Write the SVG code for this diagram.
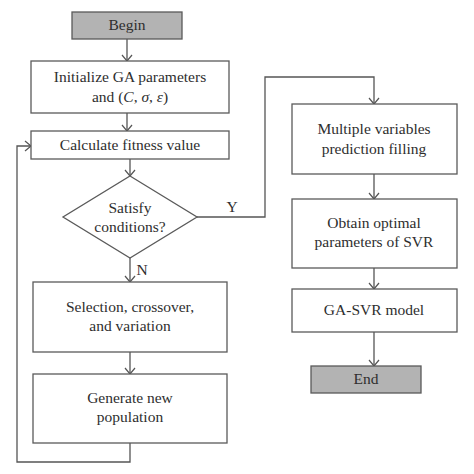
<svg xmlns="http://www.w3.org/2000/svg" width="474" height="474" viewBox="0 0 474 474">
<style>
.box{fill:#ffffff;stroke:#5a5a5a;stroke-width:1.3}
.term{fill:#b3b3b3;stroke:#5a5a5a;stroke-width:1.3}
.t{font-family:'Liberation Serif','DejaVu Serif',serif;font-size:15.5px;fill:#2e2e2e;text-anchor:middle}
.c{fill:none;stroke:#555;stroke-width:1.3}
</style>
<defs>
<marker id="ah" markerUnits="userSpaceOnUse" markerWidth="14" markerHeight="14" viewBox="-8 -7 10 14" refX="0" refY="0" orient="auto">
<path d="M-6,-5 L0,0 L-6,5" fill="none" stroke="#555" stroke-width="1.2"/>
</marker>
</defs>
<rect width="474" height="474" fill="#ffffff"/>
<g id="connectors">
<path class="c" d="M127,39 V61" marker-end="url(#ah)"/>
<path class="c" d="M127,113 V131" marker-end="url(#ah)"/>
<path class="c" d="M130,159 V176" marker-end="url(#ah)"/>
<path class="c" d="M130,258 V282" marker-end="url(#ah)"/>
<path class="c" d="M130,352 V374" marker-end="url(#ah)"/>
<path class="c" d="M130,443 V462 H17 V146 H31" marker-end="url(#ah)"/>
<path class="c" d="M197,217 H265 V77 H374 V104" marker-end="url(#ah)"/>
<path class="c" d="M374,174 V199" marker-end="url(#ah)"/>
<path class="c" d="M374,268 V289" marker-end="url(#ah)"/>
<path class="c" d="M374,332 V366" marker-end="url(#ah)"/>
<text class="t" x="232" y="212">Y</text>
<text class="t" x="142" y="275">N</text>
</g>
<g id="begin">
<rect class="term" x="72" y="12" width="110" height="27"/>
<text class="t" x="127" y="30">Begin</text>
</g>
<g id="init">
<rect class="box" x="31" y="61" width="198" height="52"/>
<text class="t" x="130" y="82">Initialize GA parameters</text>
<text class="t" x="130" y="102">and (<tspan font-style="italic">C</tspan>, <tspan font-style="italic">σ</tspan>, <tspan font-style="italic">ε</tspan>)</text>
</g>
<g id="fitness">
<rect class="box" x="31" y="131" width="198" height="28"/>
<text class="t" x="130" y="150">Calculate fitness value</text>
</g>
<g id="satisfy">
<polygon class="box" points="130,176 197,217 130,258 63,217"/>
<text class="t" x="130" y="213">Satisfy</text>
<text class="t" x="130" y="232">conditions?</text>
</g>
<g id="selection">
<rect class="box" x="33" y="282" width="194" height="70"/>
<text class="t" x="130" y="312">Selection, crossover,</text>
<text class="t" x="130" y="331">and variation</text>
</g>
<g id="generate">
<rect class="box" x="33" y="374" width="194" height="69"/>
<text class="t" x="130" y="403">Generate new</text>
<text class="t" x="130" y="422">population</text>
</g>
<g id="multiple">
<rect class="box" x="292" y="104" width="165" height="70"/>
<text class="t" x="374" y="134">Multiple variables</text>
<text class="t" x="374" y="154">prediction filling</text>
</g>
<g id="obtain">
<rect class="box" x="292" y="199" width="165" height="69"/>
<text class="t" x="374" y="228">Obtain optimal</text>
<text class="t" x="374" y="247">parameters of SVR</text>
</g>
<g id="gasvr">
<rect class="box" x="292" y="289" width="165" height="43"/>
<text class="t" x="374" y="315">GA-SVR model</text>
</g>
<g id="end">
<rect class="term" x="311" y="366" width="110" height="27"/>
<text class="t" x="366" y="384">End</text>
</g>
</svg>
